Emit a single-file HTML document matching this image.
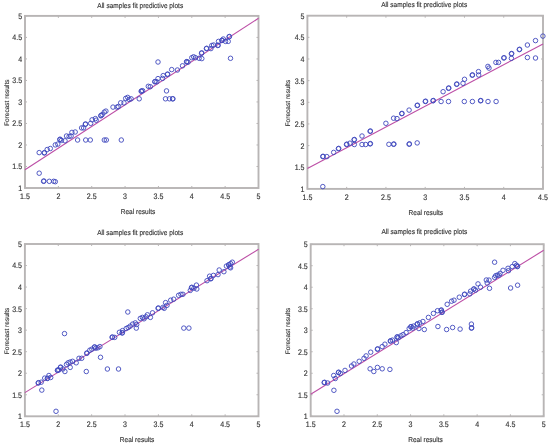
<!DOCTYPE html>
<html><head><meta charset="utf-8"><style>
html,body{margin:0;padding:0;background:#fff;}
svg{display:block;}
text{font-family:'Liberation Sans', Arial, sans-serif;font-size:71px;text-rendering:geometricPrecision;fill:#333333;stroke:#333333;stroke-width:1.3px;}
text.t{font-size:65.5px;}
</style></head><body>
<svg width="550" height="445" viewBox="0 0 550 445">
<rect width="550" height="445" fill="#fff"/>
<rect x="25.0" y="15.9" width="233.50" height="172.10" fill="none" stroke="#b8b5b5" stroke-width="1.9"/>
<text transform="translate(25.00 198.70) scale(0.1 0.1120)" text-anchor="middle">1.5</text>
<text transform="translate(58.36 198.70) scale(0.1 0.1120)" text-anchor="middle">2</text>
<text transform="translate(91.71 198.70) scale(0.1 0.1120)" text-anchor="middle">2.5</text>
<text transform="translate(125.07 198.70) scale(0.1 0.1120)" text-anchor="middle">3</text>
<text transform="translate(158.43 198.70) scale(0.1 0.1120)" text-anchor="middle">3.5</text>
<text transform="translate(191.79 198.70) scale(0.1 0.1120)" text-anchor="middle">4</text>
<text transform="translate(225.14 198.70) scale(0.1 0.1120)" text-anchor="middle">4.5</text>
<text transform="translate(258.50 198.70) scale(0.1 0.1120)" text-anchor="middle">5</text>
<text transform="translate(22.10 190.90) scale(0.1 0.1120)" text-anchor="end">1</text>
<text transform="translate(22.10 169.39) scale(0.1 0.1120)" text-anchor="end">1.5</text>
<text transform="translate(22.10 147.88) scale(0.1 0.1120)" text-anchor="end">2</text>
<text transform="translate(22.10 126.36) scale(0.1 0.1120)" text-anchor="end">2.5</text>
<text transform="translate(22.10 104.85) scale(0.1 0.1120)" text-anchor="end">3</text>
<text transform="translate(22.10 83.34) scale(0.1 0.1120)" text-anchor="end">3.5</text>
<text transform="translate(22.10 61.83) scale(0.1 0.1120)" text-anchor="end">4</text>
<text transform="translate(22.10 40.31) scale(0.1 0.1120)" text-anchor="end">4.5</text>
<text transform="translate(22.10 18.80) scale(0.1 0.1120)" text-anchor="end">5</text>
<path d="M25.00 188.00v-2M25.00 15.90v2M58.36 188.00v-2M58.36 15.90v2M91.71 188.00v-2M91.71 15.90v2M125.07 188.00v-2M125.07 15.90v2M158.43 188.00v-2M158.43 15.90v2M191.79 188.00v-2M191.79 15.90v2M225.14 188.00v-2M225.14 15.90v2M258.50 188.00v-2M258.50 15.90v2M25.00 188.00h2M258.50 188.00h-2M25.00 166.49h2M258.50 166.49h-2M25.00 144.97h2M258.50 144.97h-2M25.00 123.46h2M258.50 123.46h-2M25.00 101.95h2M258.50 101.95h-2M25.00 80.44h2M258.50 80.44h-2M25.00 58.93h2M258.50 58.93h-2M25.00 37.41h2M258.50 37.41h-2M25.00 15.90h2M258.50 15.90h-2" stroke="#b8b5b5" stroke-width="1" fill="none"/>
<line x1="25.00" y1="169.80" x2="258.50" y2="18.30" stroke="#bd4fa6" stroke-width="1.1"/>
<g fill="none" stroke="#3f48bd" stroke-width="0.9">
<circle cx="39.2" cy="173.2" r="2.25"/>
<circle cx="43.6" cy="181.3" r="2.25"/>
<circle cx="43.9" cy="181.0" r="2.25"/>
<circle cx="49.3" cy="181.3" r="2.25"/>
<circle cx="53.7" cy="181.3" r="2.25"/>
<circle cx="55.3" cy="181.7" r="2.25"/>
<circle cx="39.2" cy="152.6" r="2.25"/>
<circle cx="44.2" cy="153.0" r="2.25"/>
<circle cx="44.5" cy="152.6" r="2.25"/>
<circle cx="47.2" cy="149.5" r="2.25"/>
<circle cx="50.3" cy="148.5" r="2.25"/>
<circle cx="55.3" cy="144.9" r="2.25"/>
<circle cx="57.8" cy="144.1" r="2.25"/>
<circle cx="59.8" cy="139.6" r="2.25"/>
<circle cx="60.1" cy="139.2" r="2.25"/>
<circle cx="61.4" cy="140.4" r="2.25"/>
<circle cx="65.0" cy="140.8" r="2.25"/>
<circle cx="66.5" cy="136.0" r="2.25"/>
<circle cx="69.1" cy="136.4" r="2.25"/>
<circle cx="71.1" cy="136.0" r="2.25"/>
<circle cx="71.9" cy="132.4" r="2.25"/>
<circle cx="75.2" cy="132.0" r="2.25"/>
<circle cx="77.6" cy="140.0" r="2.25"/>
<circle cx="85.7" cy="140.0" r="2.25"/>
<circle cx="90.3" cy="140.0" r="2.25"/>
<circle cx="81.6" cy="127.9" r="2.25"/>
<circle cx="83.6" cy="127.9" r="2.25"/>
<circle cx="85.3" cy="124.3" r="2.25"/>
<circle cx="85.6" cy="124.0" r="2.25"/>
<circle cx="90.7" cy="123.3" r="2.25"/>
<circle cx="92.1" cy="119.8" r="2.25"/>
<circle cx="95.4" cy="118.6" r="2.25"/>
<circle cx="96.2" cy="120.2" r="2.25"/>
<circle cx="100.8" cy="115.8" r="2.25"/>
<circle cx="101.1" cy="115.5" r="2.25"/>
<circle cx="102.2" cy="114.6" r="2.25"/>
<circle cx="104.3" cy="112.1" r="2.25"/>
<circle cx="105.9" cy="111.1" r="2.25"/>
<circle cx="104.3" cy="140.0" r="2.25"/>
<circle cx="106.3" cy="140.0" r="2.25"/>
<circle cx="121.3" cy="140.0" r="2.25"/>
<circle cx="113.0" cy="107.1" r="2.25"/>
<circle cx="117.0" cy="107.1" r="2.25"/>
<circle cx="118.4" cy="106.5" r="2.25"/>
<circle cx="120.7" cy="102.8" r="2.25"/>
<circle cx="124.0" cy="102.9" r="2.25"/>
<circle cx="125.7" cy="98.4" r="2.25"/>
<circle cx="127.7" cy="97.4" r="2.25"/>
<circle cx="129.1" cy="99.4" r="2.25"/>
<circle cx="131.1" cy="98.8" r="2.25"/>
<circle cx="139.2" cy="98.8" r="2.25"/>
<circle cx="141.2" cy="91.3" r="2.25"/>
<circle cx="141.5" cy="91.0" r="2.25"/>
<circle cx="142.6" cy="90.7" r="2.25"/>
<circle cx="148.3" cy="86.3" r="2.25"/>
<circle cx="150.3" cy="86.7" r="2.25"/>
<circle cx="154.8" cy="81.8" r="2.25"/>
<circle cx="155.1" cy="81.5" r="2.25"/>
<circle cx="156.8" cy="81.8" r="2.25"/>
<circle cx="158.0" cy="78.6" r="2.25"/>
<circle cx="162.6" cy="78.4" r="2.25"/>
<circle cx="163.2" cy="75.6" r="2.25"/>
<circle cx="167.4" cy="74.4" r="2.25"/>
<circle cx="167.7" cy="74.1" r="2.25"/>
<circle cx="166.5" cy="90.9" r="2.25"/>
<circle cx="165.5" cy="98.8" r="2.25"/>
<circle cx="169.5" cy="98.8" r="2.25"/>
<circle cx="172.6" cy="98.8" r="2.25"/>
<circle cx="172.9" cy="98.8" r="2.25"/>
<circle cx="171.7" cy="69.6" r="2.25"/>
<circle cx="177.4" cy="70.0" r="2.25"/>
<circle cx="182.5" cy="65.8" r="2.25"/>
<circle cx="186.5" cy="61.9" r="2.25"/>
<circle cx="186.8" cy="61.6" r="2.25"/>
<circle cx="188.0" cy="62.2" r="2.25"/>
<circle cx="158.0" cy="62.0" r="2.25"/>
<circle cx="191.8" cy="57.7" r="2.25"/>
<circle cx="193.6" cy="56.8" r="2.25"/>
<circle cx="195.5" cy="57.7" r="2.25"/>
<circle cx="199.1" cy="58.3" r="2.25"/>
<circle cx="201.8" cy="58.6" r="2.25"/>
<circle cx="201.5" cy="53.2" r="2.25"/>
<circle cx="201.8" cy="52.9" r="2.25"/>
<circle cx="206.4" cy="48.6" r="2.25"/>
<circle cx="206.7" cy="48.3" r="2.25"/>
<circle cx="210.9" cy="48.6" r="2.25"/>
<circle cx="211.8" cy="45.5" r="2.25"/>
<circle cx="213.6" cy="45.0" r="2.25"/>
<circle cx="217.8" cy="45.5" r="2.25"/>
<circle cx="218.1" cy="45.2" r="2.25"/>
<circle cx="218.5" cy="41.4" r="2.25"/>
<circle cx="221.8" cy="40.5" r="2.25"/>
<circle cx="222.1" cy="40.2" r="2.25"/>
<circle cx="223.3" cy="39.0" r="2.25"/>
<circle cx="225.5" cy="41.4" r="2.25"/>
<circle cx="228.2" cy="41.4" r="2.25"/>
<circle cx="229.1" cy="36.8" r="2.25"/>
<circle cx="229.4" cy="36.5" r="2.25"/>
<circle cx="230.5" cy="58.3" r="2.25"/>
</g>
<text class="t" transform="translate(140.25 7.70) scale(0.1 0.1080)" text-anchor="middle">All samples fit predictive plots</text>
<text class="t" transform="translate(138.00 213.90) scale(0.1 0.1080)" text-anchor="middle">Real results</text>
<text class="t" transform="translate(9.00 102.75) rotate(-90) scale(0.1)" text-anchor="middle">Forecast results</text>
<rect x="307.4" y="15.7" width="235.60" height="173.20" fill="none" stroke="#b8b5b5" stroke-width="1.9"/>
<text transform="translate(307.40 199.60) scale(0.1 0.1120)" text-anchor="middle">1.5</text>
<text transform="translate(346.67 199.60) scale(0.1 0.1120)" text-anchor="middle">2</text>
<text transform="translate(385.93 199.60) scale(0.1 0.1120)" text-anchor="middle">2.5</text>
<text transform="translate(425.20 199.60) scale(0.1 0.1120)" text-anchor="middle">3</text>
<text transform="translate(464.47 199.60) scale(0.1 0.1120)" text-anchor="middle">3.5</text>
<text transform="translate(503.73 199.60) scale(0.1 0.1120)" text-anchor="middle">4</text>
<text transform="translate(543.00 199.60) scale(0.1 0.1120)" text-anchor="middle">4.5</text>
<text transform="translate(304.50 191.80) scale(0.1 0.1120)" text-anchor="end">1</text>
<text transform="translate(304.50 170.15) scale(0.1 0.1120)" text-anchor="end">1.5</text>
<text transform="translate(304.50 148.50) scale(0.1 0.1120)" text-anchor="end">2</text>
<text transform="translate(304.50 126.85) scale(0.1 0.1120)" text-anchor="end">2.5</text>
<text transform="translate(304.50 105.20) scale(0.1 0.1120)" text-anchor="end">3</text>
<text transform="translate(304.50 83.55) scale(0.1 0.1120)" text-anchor="end">3.5</text>
<text transform="translate(304.50 61.90) scale(0.1 0.1120)" text-anchor="end">4</text>
<text transform="translate(304.50 40.25) scale(0.1 0.1120)" text-anchor="end">4.5</text>
<text transform="translate(304.50 18.60) scale(0.1 0.1120)" text-anchor="end">5</text>
<path d="M307.40 188.90v-2M307.40 15.70v2M346.67 188.90v-2M346.67 15.70v2M385.93 188.90v-2M385.93 15.70v2M425.20 188.90v-2M425.20 15.70v2M464.47 188.90v-2M464.47 15.70v2M503.73 188.90v-2M503.73 15.70v2M543.00 188.90v-2M543.00 15.70v2M307.40 188.90h2M543.00 188.90h-2M307.40 167.25h2M543.00 167.25h-2M307.40 145.60h2M543.00 145.60h-2M307.40 123.95h2M543.00 123.95h-2M307.40 102.30h2M543.00 102.30h-2M307.40 80.65h2M543.00 80.65h-2M307.40 59.00h2M543.00 59.00h-2M307.40 37.35h2M543.00 37.35h-2M307.40 15.70h2M543.00 15.70h-2" stroke="#b8b5b5" stroke-width="1" fill="none"/>
<line x1="307.40" y1="168.40" x2="543.00" y2="44.00" stroke="#bd4fa6" stroke-width="1.1"/>
<g fill="none" stroke="#3f48bd" stroke-width="0.9">
<circle cx="322.8" cy="186.6" r="2.25"/>
<circle cx="322.8" cy="156.6" r="2.25"/>
<circle cx="323.1" cy="156.3" r="2.25"/>
<circle cx="326.8" cy="156.6" r="2.25"/>
<circle cx="333.7" cy="152.4" r="2.25"/>
<circle cx="338.4" cy="148.7" r="2.25"/>
<circle cx="338.7" cy="148.4" r="2.25"/>
<circle cx="346.5" cy="144.5" r="2.25"/>
<circle cx="346.8" cy="144.2" r="2.25"/>
<circle cx="349.9" cy="143.2" r="2.25"/>
<circle cx="354.1" cy="139.8" r="2.25"/>
<circle cx="354.4" cy="139.5" r="2.25"/>
<circle cx="354.3" cy="144.5" r="2.25"/>
<circle cx="362.0" cy="136.0" r="2.25"/>
<circle cx="362.0" cy="144.5" r="2.25"/>
<circle cx="365.7" cy="144.5" r="2.25"/>
<circle cx="370.1" cy="131.3" r="2.25"/>
<circle cx="370.4" cy="131.0" r="2.25"/>
<circle cx="370.1" cy="143.9" r="2.25"/>
<circle cx="370.4" cy="143.6" r="2.25"/>
<circle cx="385.9" cy="123.3" r="2.25"/>
<circle cx="388.9" cy="144.3" r="2.25"/>
<circle cx="393.6" cy="144.3" r="2.25"/>
<circle cx="393.9" cy="144.0" r="2.25"/>
<circle cx="393.6" cy="118.2" r="2.25"/>
<circle cx="397.0" cy="118.6" r="2.25"/>
<circle cx="401.7" cy="113.7" r="2.25"/>
<circle cx="402.0" cy="113.4" r="2.25"/>
<circle cx="409.1" cy="110.1" r="2.25"/>
<circle cx="409.1" cy="144.2" r="2.25"/>
<circle cx="409.4" cy="143.9" r="2.25"/>
<circle cx="417.2" cy="142.9" r="2.25"/>
<circle cx="417.2" cy="105.5" r="2.25"/>
<circle cx="417.5" cy="105.2" r="2.25"/>
<circle cx="425.3" cy="101.5" r="2.25"/>
<circle cx="425.6" cy="101.2" r="2.25"/>
<circle cx="433.0" cy="100.8" r="2.25"/>
<circle cx="433.3" cy="100.5" r="2.25"/>
<circle cx="441.1" cy="101.5" r="2.25"/>
<circle cx="448.5" cy="101.5" r="2.25"/>
<circle cx="443.1" cy="91.7" r="2.25"/>
<circle cx="448.5" cy="88.3" r="2.25"/>
<circle cx="448.8" cy="88.0" r="2.25"/>
<circle cx="456.6" cy="84.3" r="2.25"/>
<circle cx="456.9" cy="84.0" r="2.25"/>
<circle cx="463.0" cy="83.3" r="2.25"/>
<circle cx="464.5" cy="79.3" r="2.25"/>
<circle cx="464.3" cy="101.5" r="2.25"/>
<circle cx="472.4" cy="101.5" r="2.25"/>
<circle cx="480.5" cy="100.8" r="2.25"/>
<circle cx="480.8" cy="100.5" r="2.25"/>
<circle cx="488.0" cy="101.5" r="2.25"/>
<circle cx="496.1" cy="101.5" r="2.25"/>
<circle cx="472.2" cy="75.2" r="2.25"/>
<circle cx="472.5" cy="74.9" r="2.25"/>
<circle cx="478.5" cy="71.6" r="2.25"/>
<circle cx="478.7" cy="75.0" r="2.25"/>
<circle cx="487.9" cy="66.4" r="2.25"/>
<circle cx="489.0" cy="68.1" r="2.25"/>
<circle cx="495.9" cy="62.4" r="2.25"/>
<circle cx="498.5" cy="62.4" r="2.25"/>
<circle cx="503.8" cy="58.0" r="2.25"/>
<circle cx="504.1" cy="57.7" r="2.25"/>
<circle cx="511.4" cy="53.8" r="2.25"/>
<circle cx="511.7" cy="53.5" r="2.25"/>
<circle cx="511.4" cy="58.3" r="2.25"/>
<circle cx="519.3" cy="49.6" r="2.25"/>
<circle cx="519.6" cy="49.3" r="2.25"/>
<circle cx="527.4" cy="45.0" r="2.25"/>
<circle cx="527.4" cy="57.5" r="2.25"/>
<circle cx="535.5" cy="40.6" r="2.25"/>
<circle cx="535.5" cy="58.0" r="2.25"/>
<circle cx="542.9" cy="36.1" r="2.25"/>
</g>
<text class="t" transform="translate(424.20 6.80) scale(0.1 0.1080)" text-anchor="middle">All samples fit predictive plots</text>
<text class="t" transform="translate(425.80 214.80) scale(0.1 0.1080)" text-anchor="middle">Real results</text>
<text class="t" transform="translate(290.30 103.10) rotate(-90) scale(0.1)" text-anchor="middle">Forecast results</text>
<rect x="24.9" y="244.0" width="233.60" height="172.30" fill="none" stroke="#b8b5b5" stroke-width="1.9"/>
<text transform="translate(24.90 427.00) scale(0.1 0.1120)" text-anchor="middle">1.5</text>
<text transform="translate(58.27 427.00) scale(0.1 0.1120)" text-anchor="middle">2</text>
<text transform="translate(91.64 427.00) scale(0.1 0.1120)" text-anchor="middle">2.5</text>
<text transform="translate(125.01 427.00) scale(0.1 0.1120)" text-anchor="middle">3</text>
<text transform="translate(158.39 427.00) scale(0.1 0.1120)" text-anchor="middle">3.5</text>
<text transform="translate(191.76 427.00) scale(0.1 0.1120)" text-anchor="middle">4</text>
<text transform="translate(225.13 427.00) scale(0.1 0.1120)" text-anchor="middle">4.5</text>
<text transform="translate(258.50 427.00) scale(0.1 0.1120)" text-anchor="middle">5</text>
<text transform="translate(22.00 419.20) scale(0.1 0.1120)" text-anchor="end">1</text>
<text transform="translate(22.00 397.66) scale(0.1 0.1120)" text-anchor="end">1.5</text>
<text transform="translate(22.00 376.12) scale(0.1 0.1120)" text-anchor="end">2</text>
<text transform="translate(22.00 354.59) scale(0.1 0.1120)" text-anchor="end">2.5</text>
<text transform="translate(22.00 333.05) scale(0.1 0.1120)" text-anchor="end">3</text>
<text transform="translate(22.00 311.51) scale(0.1 0.1120)" text-anchor="end">3.5</text>
<text transform="translate(22.00 289.97) scale(0.1 0.1120)" text-anchor="end">4</text>
<text transform="translate(22.00 268.44) scale(0.1 0.1120)" text-anchor="end">4.5</text>
<text transform="translate(22.00 246.90) scale(0.1 0.1120)" text-anchor="end">5</text>
<path d="M24.90 416.30v-2M24.90 244.00v2M58.27 416.30v-2M58.27 244.00v2M91.64 416.30v-2M91.64 244.00v2M125.01 416.30v-2M125.01 244.00v2M158.39 416.30v-2M158.39 244.00v2M191.76 416.30v-2M191.76 244.00v2M225.13 416.30v-2M225.13 244.00v2M258.50 416.30v-2M258.50 244.00v2M24.90 416.30h2M258.50 416.30h-2M24.90 394.76h2M258.50 394.76h-2M24.90 373.23h2M258.50 373.23h-2M24.90 351.69h2M258.50 351.69h-2M24.90 330.15h2M258.50 330.15h-2M24.90 308.61h2M258.50 308.61h-2M24.90 287.07h2M258.50 287.07h-2M24.90 265.54h2M258.50 265.54h-2M24.90 244.00h2M258.50 244.00h-2" stroke="#b8b5b5" stroke-width="1" fill="none"/>
<line x1="24.90" y1="392.60" x2="258.50" y2="249.30" stroke="#bd4fa6" stroke-width="1.1"/>
<g fill="none" stroke="#3f48bd" stroke-width="0.9">
<circle cx="56.0" cy="411.3" r="2.25"/>
<circle cx="41.8" cy="390.1" r="2.25"/>
<circle cx="38.2" cy="383.0" r="2.25"/>
<circle cx="38.5" cy="382.7" r="2.25"/>
<circle cx="41.2" cy="382.2" r="2.25"/>
<circle cx="44.7" cy="378.1" r="2.25"/>
<circle cx="47.3" cy="378.5" r="2.25"/>
<circle cx="47.6" cy="378.2" r="2.25"/>
<circle cx="48.9" cy="375.5" r="2.25"/>
<circle cx="50.7" cy="377.5" r="2.25"/>
<circle cx="57.4" cy="370.4" r="2.25"/>
<circle cx="57.7" cy="370.1" r="2.25"/>
<circle cx="58.8" cy="370.0" r="2.25"/>
<circle cx="60.4" cy="367.4" r="2.25"/>
<circle cx="60.7" cy="367.1" r="2.25"/>
<circle cx="62.9" cy="369.0" r="2.25"/>
<circle cx="64.9" cy="371.5" r="2.25"/>
<circle cx="66.5" cy="364.4" r="2.25"/>
<circle cx="68.1" cy="362.8" r="2.25"/>
<circle cx="70.2" cy="362.0" r="2.25"/>
<circle cx="70.2" cy="367.4" r="2.25"/>
<circle cx="72.6" cy="361.3" r="2.25"/>
<circle cx="76.2" cy="362.8" r="2.25"/>
<circle cx="79.0" cy="358.3" r="2.25"/>
<circle cx="81.7" cy="358.3" r="2.25"/>
<circle cx="86.3" cy="371.5" r="2.25"/>
<circle cx="86.7" cy="353.3" r="2.25"/>
<circle cx="87.0" cy="353.0" r="2.25"/>
<circle cx="89.8" cy="350.2" r="2.25"/>
<circle cx="91.8" cy="349.2" r="2.25"/>
<circle cx="94.4" cy="347.2" r="2.25"/>
<circle cx="94.7" cy="346.9" r="2.25"/>
<circle cx="95.8" cy="348.2" r="2.25"/>
<circle cx="97.9" cy="347.8" r="2.25"/>
<circle cx="99.9" cy="346.6" r="2.25"/>
<circle cx="100.5" cy="357.3" r="2.25"/>
<circle cx="107.4" cy="369.0" r="2.25"/>
<circle cx="118.5" cy="369.0" r="2.25"/>
<circle cx="64.5" cy="333.6" r="2.25"/>
<circle cx="112.1" cy="337.3" r="2.25"/>
<circle cx="112.4" cy="337.0" r="2.25"/>
<circle cx="114.7" cy="337.4" r="2.25"/>
<circle cx="119.4" cy="332.3" r="2.25"/>
<circle cx="122.1" cy="333.0" r="2.25"/>
<circle cx="122.4" cy="332.7" r="2.25"/>
<circle cx="122.5" cy="330.6" r="2.25"/>
<circle cx="126.2" cy="328.5" r="2.25"/>
<circle cx="128.2" cy="327.5" r="2.25"/>
<circle cx="130.2" cy="326.1" r="2.25"/>
<circle cx="132.6" cy="324.1" r="2.25"/>
<circle cx="135.3" cy="322.9" r="2.25"/>
<circle cx="136.7" cy="324.5" r="2.25"/>
<circle cx="136.3" cy="328.1" r="2.25"/>
<circle cx="127.8" cy="312.0" r="2.25"/>
<circle cx="140.3" cy="318.4" r="2.25"/>
<circle cx="142.4" cy="317.4" r="2.25"/>
<circle cx="144.0" cy="318.8" r="2.25"/>
<circle cx="146.0" cy="316.8" r="2.25"/>
<circle cx="147.4" cy="314.8" r="2.25"/>
<circle cx="150.4" cy="317.4" r="2.25"/>
<circle cx="152.5" cy="312.8" r="2.25"/>
<circle cx="158.1" cy="308.3" r="2.25"/>
<circle cx="158.4" cy="308.0" r="2.25"/>
<circle cx="163.0" cy="307.3" r="2.25"/>
<circle cx="164.2" cy="308.3" r="2.25"/>
<circle cx="165.6" cy="302.6" r="2.25"/>
<circle cx="167.0" cy="305.3" r="2.25"/>
<circle cx="170.7" cy="300.2" r="2.25"/>
<circle cx="173.7" cy="299.2" r="2.25"/>
<circle cx="178.6" cy="295.3" r="2.25"/>
<circle cx="180.9" cy="294.3" r="2.25"/>
<circle cx="182.9" cy="294.3" r="2.25"/>
<circle cx="183.8" cy="328.1" r="2.25"/>
<circle cx="188.9" cy="328.1" r="2.25"/>
<circle cx="190.3" cy="290.4" r="2.25"/>
<circle cx="191.5" cy="287.6" r="2.25"/>
<circle cx="191.8" cy="287.3" r="2.25"/>
<circle cx="194.0" cy="288.2" r="2.25"/>
<circle cx="196.4" cy="285.1" r="2.25"/>
<circle cx="196.8" cy="289.0" r="2.25"/>
<circle cx="207.0" cy="280.7" r="2.25"/>
<circle cx="209.6" cy="276.2" r="2.25"/>
<circle cx="210.7" cy="278.8" r="2.25"/>
<circle cx="211.0" cy="278.5" r="2.25"/>
<circle cx="213.4" cy="275.4" r="2.25"/>
<circle cx="218.0" cy="274.6" r="2.25"/>
<circle cx="219.2" cy="270.0" r="2.25"/>
<circle cx="223.9" cy="271.7" r="2.25"/>
<circle cx="226.4" cy="266.1" r="2.25"/>
<circle cx="228.6" cy="265.0" r="2.25"/>
<circle cx="228.9" cy="264.7" r="2.25"/>
<circle cx="229.8" cy="267.0" r="2.25"/>
<circle cx="230.6" cy="263.6" r="2.25"/>
<circle cx="232.3" cy="262.2" r="2.25"/>
<circle cx="230.6" cy="267.8" r="2.25"/>
</g>
<text class="t" transform="translate(140.20 234.90) scale(0.1 0.1080)" text-anchor="middle">All samples fit predictive plots</text>
<text class="t" transform="translate(137.10 442.20) scale(0.1 0.1080)" text-anchor="middle">Real results</text>
<text class="t" transform="translate(8.90 330.95) rotate(-90) scale(0.1)" text-anchor="middle">Forecast results</text>
<rect x="310.7" y="244.2" width="233.00" height="172.10" fill="none" stroke="#b8b5b5" stroke-width="1.9"/>
<text transform="translate(310.70 427.00) scale(0.1 0.1120)" text-anchor="middle">1.5</text>
<text transform="translate(343.99 427.00) scale(0.1 0.1120)" text-anchor="middle">2</text>
<text transform="translate(377.27 427.00) scale(0.1 0.1120)" text-anchor="middle">2.5</text>
<text transform="translate(410.56 427.00) scale(0.1 0.1120)" text-anchor="middle">3</text>
<text transform="translate(443.84 427.00) scale(0.1 0.1120)" text-anchor="middle">3.5</text>
<text transform="translate(477.13 427.00) scale(0.1 0.1120)" text-anchor="middle">4</text>
<text transform="translate(510.41 427.00) scale(0.1 0.1120)" text-anchor="middle">4.5</text>
<text transform="translate(543.70 427.00) scale(0.1 0.1120)" text-anchor="middle">5</text>
<text transform="translate(307.80 419.20) scale(0.1 0.1120)" text-anchor="end">1</text>
<text transform="translate(307.80 397.69) scale(0.1 0.1120)" text-anchor="end">1.5</text>
<text transform="translate(307.80 376.17) scale(0.1 0.1120)" text-anchor="end">2</text>
<text transform="translate(307.80 354.66) scale(0.1 0.1120)" text-anchor="end">2.5</text>
<text transform="translate(307.80 333.15) scale(0.1 0.1120)" text-anchor="end">3</text>
<text transform="translate(307.80 311.64) scale(0.1 0.1120)" text-anchor="end">3.5</text>
<text transform="translate(307.80 290.12) scale(0.1 0.1120)" text-anchor="end">4</text>
<text transform="translate(307.80 268.61) scale(0.1 0.1120)" text-anchor="end">4.5</text>
<text transform="translate(307.80 247.10) scale(0.1 0.1120)" text-anchor="end">5</text>
<path d="M310.70 416.30v-2M310.70 244.20v2M343.99 416.30v-2M343.99 244.20v2M377.27 416.30v-2M377.27 244.20v2M410.56 416.30v-2M410.56 244.20v2M443.84 416.30v-2M443.84 244.20v2M477.13 416.30v-2M477.13 244.20v2M510.41 416.30v-2M510.41 244.20v2M543.70 416.30v-2M543.70 244.20v2M310.70 416.30h2M543.70 416.30h-2M310.70 394.79h2M543.70 394.79h-2M310.70 373.27h2M543.70 373.27h-2M310.70 351.76h2M543.70 351.76h-2M310.70 330.25h2M543.70 330.25h-2M310.70 308.74h2M543.70 308.74h-2M310.70 287.23h2M543.70 287.23h-2M310.70 265.71h2M543.70 265.71h-2M310.70 244.20h2M543.70 244.20h-2" stroke="#b8b5b5" stroke-width="1" fill="none"/>
<line x1="310.70" y1="394.30" x2="543.70" y2="250.30" stroke="#bd4fa6" stroke-width="1.1"/>
<g fill="none" stroke="#3f48bd" stroke-width="0.9">
<circle cx="337.0" cy="411.3" r="2.25"/>
<circle cx="333.9" cy="390.3" r="2.25"/>
<circle cx="324.2" cy="382.6" r="2.25"/>
<circle cx="324.5" cy="382.3" r="2.25"/>
<circle cx="327.6" cy="383.0" r="2.25"/>
<circle cx="333.7" cy="375.5" r="2.25"/>
<circle cx="335.3" cy="378.5" r="2.25"/>
<circle cx="338.4" cy="372.5" r="2.25"/>
<circle cx="338.7" cy="372.2" r="2.25"/>
<circle cx="340.4" cy="373.5" r="2.25"/>
<circle cx="345.0" cy="370.4" r="2.25"/>
<circle cx="351.5" cy="366.0" r="2.25"/>
<circle cx="353.9" cy="364.0" r="2.25"/>
<circle cx="359.2" cy="361.3" r="2.25"/>
<circle cx="364.0" cy="358.3" r="2.25"/>
<circle cx="366.1" cy="355.9" r="2.25"/>
<circle cx="370.7" cy="352.2" r="2.25"/>
<circle cx="370.1" cy="368.8" r="2.25"/>
<circle cx="373.8" cy="371.5" r="2.25"/>
<circle cx="377.4" cy="367.4" r="2.25"/>
<circle cx="382.2" cy="368.8" r="2.25"/>
<circle cx="389.9" cy="369.4" r="2.25"/>
<circle cx="377.4" cy="349.2" r="2.25"/>
<circle cx="377.7" cy="348.9" r="2.25"/>
<circle cx="382.2" cy="346.6" r="2.25"/>
<circle cx="384.9" cy="344.2" r="2.25"/>
<circle cx="390.3" cy="341.1" r="2.25"/>
<circle cx="390.6" cy="340.8" r="2.25"/>
<circle cx="392.4" cy="340.1" r="2.25"/>
<circle cx="396.3" cy="342.6" r="2.25"/>
<circle cx="397.0" cy="337.1" r="2.25"/>
<circle cx="397.3" cy="336.8" r="2.25"/>
<circle cx="398.4" cy="337.7" r="2.25"/>
<circle cx="400.9" cy="335.8" r="2.25"/>
<circle cx="403.1" cy="334.6" r="2.25"/>
<circle cx="406.1" cy="332.6" r="2.25"/>
<circle cx="409.2" cy="328.5" r="2.25"/>
<circle cx="410.8" cy="326.9" r="2.25"/>
<circle cx="411.1" cy="326.6" r="2.25"/>
<circle cx="412.8" cy="328.1" r="2.25"/>
<circle cx="413.6" cy="326.1" r="2.25"/>
<circle cx="417.2" cy="324.1" r="2.25"/>
<circle cx="417.5" cy="323.8" r="2.25"/>
<circle cx="419.7" cy="322.9" r="2.25"/>
<circle cx="418.9" cy="328.5" r="2.25"/>
<circle cx="422.9" cy="321.5" r="2.25"/>
<circle cx="424.3" cy="329.5" r="2.25"/>
<circle cx="428.4" cy="317.4" r="2.25"/>
<circle cx="433.4" cy="313.4" r="2.25"/>
<circle cx="437.5" cy="310.7" r="2.25"/>
<circle cx="441.1" cy="310.3" r="2.25"/>
<circle cx="441.4" cy="310.0" r="2.25"/>
<circle cx="441.9" cy="312.4" r="2.25"/>
<circle cx="442.2" cy="312.1" r="2.25"/>
<circle cx="437.9" cy="326.5" r="2.25"/>
<circle cx="446.6" cy="329.5" r="2.25"/>
<circle cx="452.6" cy="327.5" r="2.25"/>
<circle cx="460.1" cy="329.1" r="2.25"/>
<circle cx="471.4" cy="324.1" r="2.25"/>
<circle cx="471.4" cy="328.1" r="2.25"/>
<circle cx="471.7" cy="327.8" r="2.25"/>
<circle cx="447.2" cy="304.3" r="2.25"/>
<circle cx="451.6" cy="301.2" r="2.25"/>
<circle cx="454.0" cy="300.2" r="2.25"/>
<circle cx="459.3" cy="297.2" r="2.25"/>
<circle cx="464.4" cy="294.5" r="2.25"/>
<circle cx="464.7" cy="294.2" r="2.25"/>
<circle cx="469.8" cy="293.9" r="2.25"/>
<circle cx="470.6" cy="291.2" r="2.25"/>
<circle cx="473.7" cy="289.2" r="2.25"/>
<circle cx="474.0" cy="288.9" r="2.25"/>
<circle cx="475.5" cy="290.2" r="2.25"/>
<circle cx="478.0" cy="283.9" r="2.25"/>
<circle cx="480.5" cy="287.2" r="2.25"/>
<circle cx="486.3" cy="280.0" r="2.25"/>
<circle cx="487.2" cy="283.0" r="2.25"/>
<circle cx="489.0" cy="280.1" r="2.25"/>
<circle cx="489.5" cy="288.3" r="2.25"/>
<circle cx="494.6" cy="262.2" r="2.25"/>
<circle cx="494.6" cy="277.4" r="2.25"/>
<circle cx="495.7" cy="275.7" r="2.25"/>
<circle cx="497.4" cy="275.1" r="2.25"/>
<circle cx="499.1" cy="275.1" r="2.25"/>
<circle cx="500.1" cy="273.4" r="2.25"/>
<circle cx="503.0" cy="270.3" r="2.25"/>
<circle cx="508.0" cy="268.3" r="2.25"/>
<circle cx="508.5" cy="270.7" r="2.25"/>
<circle cx="510.6" cy="288.0" r="2.25"/>
<circle cx="517.6" cy="285.2" r="2.25"/>
<circle cx="512.2" cy="266.6" r="2.25"/>
<circle cx="514.8" cy="263.6" r="2.25"/>
<circle cx="516.5" cy="265.3" r="2.25"/>
<circle cx="517.3" cy="266.6" r="2.25"/>
<circle cx="517.6" cy="266.3" r="2.25"/>
</g>
<text class="t" transform="translate(424.40 234.00) scale(0.1 0.1080)" text-anchor="middle">All samples fit predictive plots</text>
<text class="t" transform="translate(425.50 442.20) scale(0.1 0.1080)" text-anchor="middle">Real results</text>
<text class="t" transform="translate(290.30 331.05) rotate(-90) scale(0.1)" text-anchor="middle">Forecast results</text>
</svg>
</body></html>
